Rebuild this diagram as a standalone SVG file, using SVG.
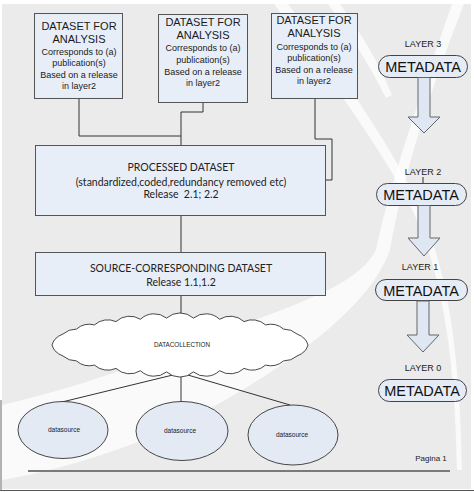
<svg xmlns="http://www.w3.org/2000/svg" width="474" height="492" viewBox="0 0 474 492">
<style>
.box{fill:#e8eef8;stroke:#555;stroke-width:1}
.t1{font-family:"Liberation Sans",Arial,sans-serif;fill:#1a1a1a;text-anchor:middle}
.big{font-size:11px}
.sm{font-size:9px}
.cal{font-family:Lato,"Liberation Sans",sans-serif;font-size:10.5px;fill:#222;text-anchor:middle}
.conn{fill:none;stroke:#333;stroke-width:1}
.ell{fill:#e4eaf4;stroke:#333;stroke-width:0.9}
.pill{fill:#e6ecf6;stroke:#444;stroke-width:1}
.meta{font-family:"Liberation Sans",Arial,sans-serif;font-size:14.5px;fill:#111;text-anchor:middle}
.lay{font-family:"Liberation Sans",Arial,sans-serif;font-size:9px;fill:#222;text-anchor:middle}
.arr{fill:#dfe7f3;stroke:#666;stroke-width:1}
.tiny{font-family:"Liberation Sans",Arial,sans-serif;font-size:6.3px;fill:#222;text-anchor:middle}
.sw{fill:#fff;opacity:0.75}
</style>
<rect x="0" y="0" width="474" height="492" fill="#fff"/>
<rect x="2" y="4" width="469" height="485" fill="#ebebeb"/>
<line x1="0" y1="490.5" x2="474" y2="490.5" stroke="#555" stroke-width="1"/>
<line x1="1" y1="400" x2="1" y2="491" stroke="#666" stroke-width="1"/>
<g id="background-swooshes">
<path class="sw" d="M274,4 L288,4 C338,70 388,140 416,200 C442,255 460,330 462,470 L457,470 C455,340 438,262 410,205 C382,150 328,75 274,4 Z"/>
<path class="sw" d="M452,4 L464,4 C430,90 402,180 390,250 C372,302 300,362 180,425 C110,455 50,472 2,480 L2,405 C90,385 180,350 260,318 C320,296 362,278 376,250 C388,190 422,90 452,4 Z"/>
<path class="sw" d="M328,4 L340,4 C366,40 382,70 392,95 L386,98 C372,70 354,40 328,4 Z"/>
</g>
<g id="connectors">
<path class="conn" d="M79,98 V136 H181"/>
<path class="conn" d="M203,103 V112 H181 V145"/>
<path class="conn" d="M315,99 V139 H332 V180 H326"/>
<path class="conn" d="M181,215 V252"/>
<path class="conn" d="M181,296 V318"/>
<path class="conn" d="M181,373 L62,402"/>
<path class="conn" d="M181,373 V402"/>
<path class="conn" d="M181,373 L290,405"/>
<path class="conn" d="M423,177 V183"/>
</g>
<g id="dataset1">
<rect class="box" x="34.5" y="13.5" width="88" height="85"/>
<text class="t1 big" x="79" y="30">DATASET FOR</text>
<text class="t1 big" x="79" y="43">ANALYSIS</text>
<text class="t1 sm" x="79" y="55">Corresponds to (a)</text>
<text class="t1 sm" x="79" y="66">publication(s)</text>
<text class="t1 sm" x="79" y="78">Based on a release</text>
<text class="t1 sm" x="79" y="89">in layer2</text>
</g>
<g id="dataset2">
<rect class="box" x="158.5" y="14.5" width="89" height="88"/>
<text class="t1 big" x="203" y="26">DATASET FOR</text>
<text class="t1 big" x="203" y="39">ANALYSIS</text>
<text class="t1 sm" x="203" y="51">Corresponds to (a)</text>
<text class="t1 sm" x="203" y="63">publication(s)</text>
<text class="t1 sm" x="203" y="75">Based on a release</text>
<text class="t1 sm" x="203" y="86">in layer2</text>
</g>
<g id="dataset3">
<rect class="box" x="271.5" y="13.5" width="86" height="85"/>
<text class="t1 big" x="314" y="24">DATASET FOR</text>
<text class="t1 big" x="314" y="37">ANALYSIS</text>
<text class="t1 sm" x="314" y="50">Corresponds to (a)</text>
<text class="t1 sm" x="314" y="61">publication(s)</text>
<text class="t1 sm" x="314" y="73">Based on a release</text>
<text class="t1 sm" x="314" y="84">in layer2</text>
</g>
<g id="processed">
<rect class="box" x="35.5" y="145.5" width="290" height="70"/>
<text class="cal" x="181" y="171">PROCESSED DATASET</text>
<text class="cal" x="181" y="186">(standardized,coded,redundancy removed etc)</text>
<text class="cal" x="181" y="198" xml:space="preserve">Release  2.1; 2.2</text>
</g>
<g id="source">
<rect class="box" x="35.5" y="252.5" width="290" height="43"/>
<text class="cal" x="181" y="272">SOURCE-CORRESPONDING DATASET</text>
<text class="cal" x="181" y="286">Release 1.1,1.2</text>
</g>
<g id="datacollection">
<path fill="#fff" stroke="#333" stroke-width="0.9" d="M308,345 A20,20 0 0 1 305.2,350.6 A20,20 0 0 1 297,356 A20,20 0 0 1 283.6,360.9 A20,20 0 0 1 265.6,365.1 A20,20 0 0 1 244,368.4 A20,20 0 0 1 219.6,370.7 A20,20 0 0 1 193.4,371.9 A20,20 0 0 1 166.6,371.9 A20,20 0 0 1 140.4,370.7 A20,20 0 0 1 116,368.4 A20,20 0 0 1 94.4,365.1 A20,20 0 0 1 76.4,360.9 A20,20 0 0 1 63,356 A20,20 0 0 1 54.8,350.6 A20,20 0 0 1 52,345 A20,20 0 0 1 54.8,339.4 A20,20 0 0 1 63,334 A20,20 0 0 1 76.4,329.1 A20,20 0 0 1 94.4,324.9 A20,20 0 0 1 116,321.6 A20,20 0 0 1 140.4,319.3 A20,20 0 0 1 166.6,318.1 A20,20 0 0 1 193.4,318.1 A20,20 0 0 1 219.6,319.3 A20,20 0 0 1 244,321.6 A20,20 0 0 1 265.6,324.9 A20,20 0 0 1 283.6,329.1 A20,20 0 0 1 297,334 A20,20 0 0 1 305.2,339.4 A20,20 0 0 1 308,345 Z"/>
<text class="tiny" x="182" y="347">DATACOLLECTION</text>
</g>
<g id="datasource1">
<ellipse class="ell" cx="63" cy="430" rx="45" ry="28.5"/>
<text class="tiny" x="64" y="432" style="font-size:6.5px">datasource</text>
</g>
<g id="datasource2">
<ellipse class="ell" cx="182" cy="431" rx="46" ry="29.5"/>
<text class="tiny" x="180" y="433" style="font-size:6.5px">datasource</text>
</g>
<g id="datasource3">
<ellipse class="ell" cx="293" cy="435" rx="45" ry="30"/>
<text class="tiny" x="292" y="437" style="font-size:6.5px">datasource</text>
</g>
<g id="layer3">
<text class="lay" x="423" y="47">LAYER 3</text>
<rect class="pill" x="378.5" y="55.5" width="89" height="22" rx="11"/>
<text class="meta" x="423" y="72">METADATA</text>
</g>
<g id="arrow1"><polygon class="arr" points="418,77.5 430,77.5 430,117 440,117 424,133 408,117 418,117"/></g>
<g id="layer2">
<text class="lay" x="423" y="175">LAYER 2</text>
<rect class="pill" x="376.5" y="183.5" width="90" height="22" rx="11"/>
<text class="meta" x="421" y="200">METADATA</text>
</g>
<g id="arrow2"><polygon class="arr" points="418,205.5 430,205.5 430,238 440,238 424,256 408,238 418,238"/></g>
<g id="layer1">
<text class="lay" x="420" y="270">LAYER 1</text>
<rect class="pill" x="375.5" y="279.5" width="92" height="21" rx="10.5"/>
<text class="meta" x="421" y="296">METADATA</text>
</g>
<g id="arrow3"><polygon class="arr" points="417,301 429,301 429,335 439,335 423,352 407,335 417,335"/></g>
<g id="layer0">
<text class="lay" x="423" y="371">LAYER 0</text>
<rect class="pill" x="378.5" y="379.5" width="88" height="22" rx="11"/>
<text class="meta" x="422" y="396">METADATA</text>
</g>
<g id="footer">
<text class="t1" x="431" y="461" style="font-size:8px">Pagina 1</text>
<line x1="28" y1="471" x2="450" y2="471" stroke="#7a7a7a" stroke-width="2"/>
</g>
</svg>
